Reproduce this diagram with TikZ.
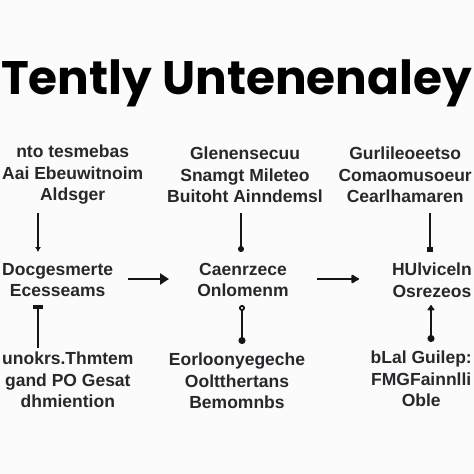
\documentclass[tikz,border=0pt]{standalone}
\usepackage{fontspec}
\setmainfont{Liberation Sans}
\newfontfamily\titlefont{Poppins}
\usetikzlibrary{arrows.meta}
\definecolor{bgcol}{HTML}{FBFBFB}
\definecolor{txtgray}{HTML}{26282B}
\definecolor{inkcol}{HTML}{151515}
\begin{document}
\begin{tikzpicture}[x=1pt,y=-1pt,
  lbl/.style={font=\fontsize{17.5}{21.5}\selectfont\bfseries, text=txtgray, align=center, inner sep=0pt},
  ttl/.style={font=\titlefont\fontsize{47}{52}\selectfont\bfseries, text=black, inner sep=0pt, anchor=base west},
  vconn/.style={draw=inkcol, line width=1.8pt},
  hconn/.style={draw=inkcol, line width=2.8pt}]
\useasboundingbox[fill=bgcol] (0,0) rectangle (474,474);
% title
\node[ttl] (title) at (1,94) {Tently Untenenaley};
% top row
\node[lbl, anchor=west] (tl) at (2,175) {nto tesmebas\\Aai Ebeuwitnoim\\Aldsger};
\node[lbl] (tm) at (245,175) {Glenensecuu\\Snamgt Mileteo\\Buitoht  Ainndemsl};
\node[lbl, anchor=east] (tr) at (472,175) {Gurlileoeetso\\Comaomusoeur\\Cearlhamaren};
% middle row
\node[lbl, anchor=west] (ml) at (2,280) {Docgesmerte\\Ecesseams};
\node[lbl] (mm) at (243,280) {Caenrzece\\Onlomenm};
\node[lbl, anchor=east] (mr) at (472,280) {HUlviceln\\Osrezeos};
% bottom row
\node[lbl, anchor=west] (bl) at (2,380) {unokrs.Thmtem\\gand PO Gesat\\dhmiention};
\node[lbl] (bm) at (237,381) {Eorloonyegeche\\Ooltthertans\\Bemomnbs};
\node[lbl, anchor=east] (br) at (472,379) {bLal Guilep:\\FMGFainnlli\\Oble};
% connector ends
\coordinate (a1) at (38,213);  \coordinate (a2) at (38,252);
\coordinate (b1) at (241,213); \coordinate (b2) at (241,252);
\coordinate (c1) at (430,213); \coordinate (c2) at (430,252);
\coordinate (h1) at (128,279); \coordinate (h2) at (169,279);
\coordinate (h3) at (317,279); \coordinate (h4) at (359,279);
\coordinate (d1) at (38,305);  \coordinate (d2) at (38,348);
\coordinate (e1) at (242,305); \coordinate (e2) at (242,344);
\coordinate (f1) at (431,305); \coordinate (f2) at (431,342);
% connectors
\draw[vconn, -{Latex[length=5pt,width=6pt]}] (a1) -- (a2);
\draw[vconn, -{Circle[length=6pt]}] (b1) -- (b2);
\draw[vconn, -{Square[length=5pt,width=6pt]}] (c1) -- (c2);
\draw[hconn, -{Triangle[length=9pt,width=11pt]}] (h1) -- (h2);
\draw[hconn, -{Latex[round,length=9pt,width=11pt]}] (h3) -- (h4);
\draw[vconn, {Rectangle[length=4pt,width=10pt]}-] (d1) -- (d2);
\draw[vconn, {Circle[open,length=6pt]}-{Circle[length=7pt]}] (e1) -- (e2);
\draw[vconn, {Latex[round,length=6pt,width=9pt]}-{Circle[length=7pt]}] (f1) -- (f2);
\end{tikzpicture}
\end{document}
